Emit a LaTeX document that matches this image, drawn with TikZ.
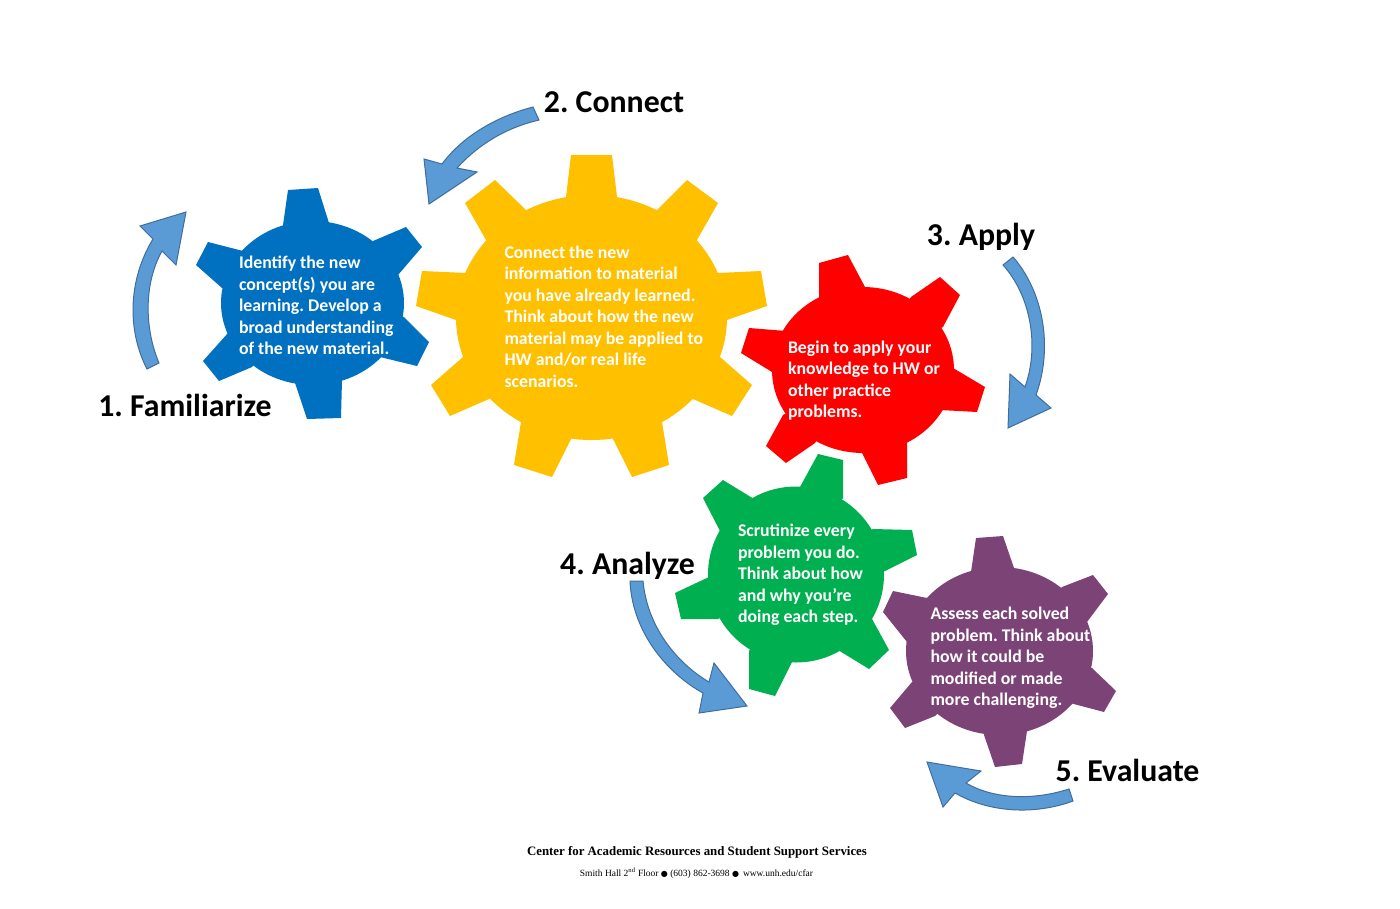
\documentclass[tikz,border=0pt]{standalone}
\usepackage{fontspec}
\setmainfont{Carlito}
\newfontfamily\footfont{Liberation Serif}
\newfontfamily\dotfont{DejaVu Sans}
\definecolor{gblue}{HTML}{0070C0}
\definecolor{gyellow}{HTML}{FFC000}
\definecolor{gred}{HTML}{FF0000}
\definecolor{ggreen}{HTML}{00B050}
\definecolor{gpurple}{HTML}{7B4376}
\definecolor{afill}{HTML}{5B9BD5}
\definecolor{aline}{HTML}{3F6E9C}
\tikzset{
  gearbody/.style={inner sep=0pt,outer sep=0pt,text=white,align=left,anchor=west,font=\fontsize{17.8}{21.5}\selectfont\bfseries\frenchspacing},
  steptitle/.style={inner sep=0pt,anchor=base,text=black,font=\fontsize{31.8}{34}\selectfont\bfseries\frenchspacing},
  turnarrow/.style={fill=afill,draw=aline,line width=1pt,line join=miter},
}
\newcommand\gearteeth[6]{%
  \fill[#1] (#2,#3) ellipse [x radius=#4pt,y radius=#5pt];
  \foreach \tp in {#6}{\expandafter\gearfilltooth\tp\relax{#1}{#2}{#3}}%
}
\def\gearfilltooth#1,#2,#3,#4,#5,#6,#7,#8\relax#9{\gearfilltoothb{#1}{#2}{#3}{#4}{#5}{#6}{#7}{#8}{#9}}
\newcommand\gearfilltoothb[9]{\def\gtcol{#9}\gearfilltoothc{#1}{#2}{#3}{#4}{#5}{#6}{#7}{#8}}
\newcommand\gearfilltoothc[8]{\def\gta{#1}\def\gtb{#2}\def\gtc{#3}\def\gtd{#4}\def\gte{#5}\def\gtf{#6}\def\gtg{#7}\def\gth{#8}\gearfilltoothd}
\newcommand\gearfilltoothd[2]{\fill[\gtcol] (\gta,\gtb) -- (\gtc,\gtd) -- (\gte,\gtf) -- (\gtg,\gth) -- (#1,#2) -- cycle;}
\begin{document}
\begin{tikzpicture}[x=1pt,y=-1pt]
\useasboundingbox (0,0) rectangle (1400,908);
\fill[white] (0,0) rectangle (1400,908);
% gears
\gearteeth{gblue}{312.5}{303}{91.5}{82}{
 {283,225,288,190,318,188,329,223},{373,241,406,227,422,247,398,275},{404,317,429,342,417,366,380,357},
 {342,380,341,418,307,419,295,383},{252,367,219,381,203,361,228,333},{222,288,196,265,208,242,243,251}}
\gearteeth{gyellow}{591.5}{317.5}{135.5}{122.5}{
 {566,197,571,155,612,155,617,197},{657,210,687,180,718,203,697,240},{718,273,761,271,767,306,727,320},
 {720,357,752,385,732,416,693,399},{662,422,669,465,632,477,613,439},{571,439,552,477,514,465,521,422},
 {489,399,450,416,431,385,463,357},{456,320,416,306,422,271,466,273},{486,240,465,203,495,180,526,210}}
\gearteeth{gred}{863}{370}{91}{83}{
 {819,299,819,263,848,255,865,287},{911,297,940,277,960,295,943,327},{953,368,985,387,977,412,940,410},
 {907,442,907,478,878,485,862,453},{815,443,786,463,766,446,783,415},{772,372,741,353,749,328,786,331}}
\gearteeth{ggreen}{796}{574.5}{88}{88}{
 {800,487,818,454,843,460,843,498},{873,529,912,530,917,555,883,572},{871,617,889,650,869,669,838,650},
 {792,662,775,696,749,689,749,651},{718,619,681,619,675,593,709,577},{721,533,703,498,723,480,754,499}}
\gearteeth{gpurple}{999.5}{651}{93.5}{84}{
 {971,572,976,538,1003,536,1014,568},{1062,587,1093,575,1108,594,1087,622},{1092,668,1116,691,1104,712,1070,703},
 {1027,731,1022,764,995,767,984,735},{935,716,905,728,890,708,912,682},{907,642,883,612,893,591,927,598}}
% curved arrows
\draw[turnarrow] (159,363) .. controls (145,330) and (143,285) .. (162,251) -- (176,265) -- (186,212) -- (140,226) -- (153,239) .. controls (128,280) and (127,330) .. (147,369) -- cycle;
\draw[turnarrow] (533,107) .. controls (495,117) and (462,137) .. (442,164) -- (424,159) -- (429,204) -- (477,172) -- (457,168) .. controls (478,145) and (505,128) .. (539,120) -- cycle;
\draw[turnarrow] (1013,257) .. controls (1042,290) and (1054,345) .. (1036,395) -- (1051,408) -- (1008,428) -- (1010,374) -- (1025,387) .. controls (1040,345) and (1030,295) .. (1003,265) -- cycle;
\draw[turnarrow] (643,581) .. controls (647,625) and (675,662) .. (709,682) -- (714,663) -- (747,706) -- (699,713) -- (703,693) .. controls (665,672) and (632,630) .. (630,581) -- cycle;
\draw[turnarrow] (1069,789) .. controls (1035,800) and (995,800) .. (966,783) -- (981,771) -- (927,762) -- (943,807) -- (955,793) .. controls (990,813) and (1035,815) .. (1073,801) -- cycle;
% gear texts
\node[gearbody] (t1) at (239,305.5) {Identify the new\\concept(s) you are\\learning. Develop a\\broad understanding\\of the new material.};
\node[gearbody] (t2) at (504.5,316.7) {Connect the new\\information to material\\you have already learned.\\Think about how the new\\material may be applied to\\HW and/or real life\\scenarios.};
\node[gearbody] (t3) at (788,380.5) {Begin to apply your\\knowledge to HW or\\other practice\\problems.};
\node[gearbody] (t4) at (738,575.2) {Scrutinize every\\problem you do.\\Think about how\\and why you’re\\doing each step.};
\node[gearbody] (t5) at (930.5,658.2) {Assess each solved\\problem. Think about\\how it could be\\modified or made\\more challenging.};
% titles
\node[steptitle] (s1) at (185,416) {1. Familiarize};
\node[steptitle] (s2) at (614,112) {2. Connect};
\node[steptitle] (s3) at (981,245) {3. Apply};
\node[steptitle] (s4) at (627.5,574) {4. Analyze};
\node[steptitle] (s5) at (1127.5,781) {5. Evaluate};
% footer
\node[inner sep=0pt,font=\footfont\fontsize{12.85}{14}\selectfont\bfseries] (f1) at (697,852) {Center for Academic Resources and Student Support Services};
\node[inner sep=0pt,font=\footfont\fontsize{9.5}{11}\selectfont] (f2) at (696.5,873.5) {Smith Hall 2\textsuperscript{nd} Floor {\dotfont\fontsize{8}{9}\selectfont ●} (603) 862-3698 {\dotfont\fontsize{8}{9}\selectfont ●}\, www.unh.edu/cfar};
\end{tikzpicture}
\end{document}
